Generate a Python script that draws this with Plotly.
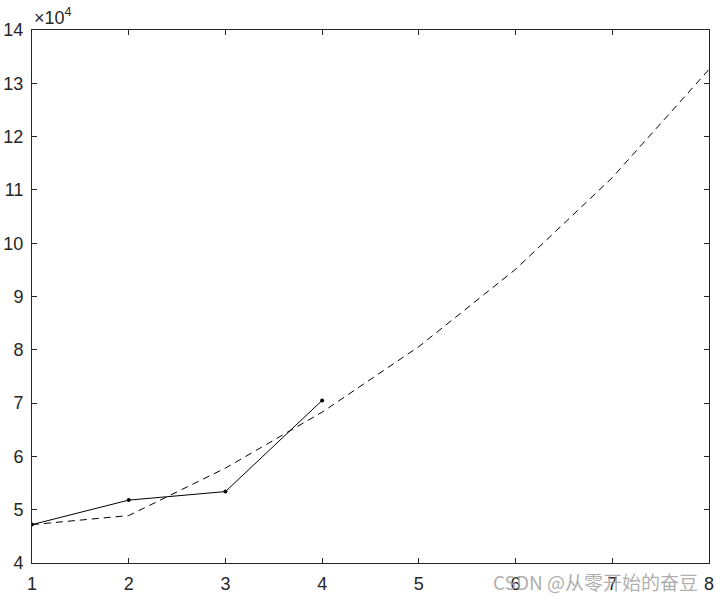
import plotly.graph_objects as go

# observed series (solid, with dots) and fitted/forecast series (dashed)
x_obs = [1, 2, 3, 4]
y_obs = [47200, 51800, 53400, 70500]

x_fit = [1, 2, 3, 4, 5, 6, 7, 8]
y_fit = [47200, 48900, 57800, 68300, 80600, 95100, 112300, 132600]

x_ticks = [1, 2, 3, 4, 5, 6, 7, 8]
y_ticks = [40000, 50000, 60000, 70000, 80000, 90000, 100000, 110000, 120000, 130000, 140000]
y_labels = [str(v // 10000) for v in y_ticks]

axis_col = "#262626"
font_fam = "Liberation Sans, Arial, sans-serif"

fig = go.Figure()
fig.add_trace(go.Scatter(x=x_obs, y=y_obs, mode="lines+markers",
                         line=dict(color="black", width=1),
                         marker=dict(color="black", size=4)))
fig.add_trace(go.Scatter(x=x_fit, y=y_fit, mode="lines",
                         line=dict(color="black", width=1, dash="7px,5px")))

axis_style = dict(showgrid=False, zeroline=False, showline=True, linecolor=axis_col,
                  linewidth=1, mirror="ticks", ticks="inside", ticklen=5,
                  tickcolor=axis_col, automargin=False, ticklabelstandoff=4,
                  tickfont=dict(size=18, color=axis_col, family=font_fam))

fig.update_xaxes(range=[1, 8], tickvals=x_ticks, **axis_style)
fig.update_yaxes(range=[40000, 140000], tickvals=y_ticks, ticktext=y_labels, **axis_style)

fig.add_annotation(xref="paper", yref="paper", x=0, y=1, xanchor="left", yanchor="bottom",
                   yshift=0, showarrow=False, text="×10<sup>4</sup>",
                   font=dict(size=18, color=axis_col, family=font_fam))
fig.add_annotation(xref="paper", yref="paper", x=0.986, y=0, xanchor="right", yanchor="top",
                   yshift=-3, showarrow=False, text="CSDN @从零开始的奋豆",
                   font=dict(size=19, color="rgba(160,160,160,0.85)",
                             family="Noto Sans CJK SC"))

fig.update_layout(width=717, height=597, showlegend=False,
                  plot_bgcolor="white", paper_bgcolor="white",
                  margin=dict(l=32, r=8, t=30, b=34))

# drop the default page margin so the figure sits at the window corner
fig.write_html("out.html", config={"displayModeBar": False},
               post_script="document.body.style.margin='0';")
